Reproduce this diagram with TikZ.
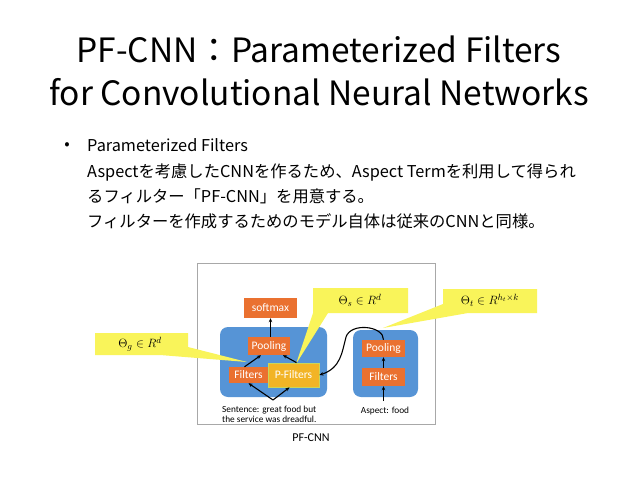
\documentclass[tikz,border=0pt]{standalone}
\usepackage{fontspec}
\setmainfont{Noto Sans CJK JP}
\newfontfamily\boxfont{Carlito}
\usetikzlibrary{arrows.meta}
\definecolor{bluebox}{HTML}{5694D6}
\definecolor{orangebox}{HTML}{EA7130}
\definecolor{pfill}{HTML}{F2B426}
\definecolor{pborder}{HTML}{C9D65C}
\definecolor{callout}{HTML}{F9F45A}
\definecolor{framegray}{HTML}{A8A8A8}
\begin{document}
\begin{tikzpicture}[x=1pt,y=-1pt,
  bluepanel/.style={fill=bluebox, rounded corners=8pt},
  obox/.style={fill=orangebox, text=white, inner sep=0pt, font=\boxfont\fontsize{11.5}{13}\selectfont},
  arr/.style={-{Stealth[length=4pt,width=3.5pt]}, line width=1.1pt, black},
  callbox/.style={fill=callout},
  title/.style={anchor=base, inner sep=0pt, font=\fontsize{33.5}{38}\selectfont},
  body/.style={anchor=base west, inner sep=0pt, font=\fontsize{16.3}{20}\selectfont},
  small/.style={inner sep=0pt, font=\boxfont\fontsize{9.3}{11}\selectfont},
  mathlab/.style={inner sep=0pt, font=\fontsize{12.5}{14}\selectfont}]
\fill[white] (0,0) rectangle (638,479);
\useasboundingbox (0,0) rectangle (638,479);

% title
\node[title] (t1) at (319,62) {PF-CNN：Parameterized Filters};
\node[title] (t2) at (319,105) {for Convolutional Neural Networks};

% bullet text
\node[inner sep=0pt, font=\fontsize{16}{18}\selectfont] (bul) at (67,146) {•};
\node[body] (b1) at (87,151) {Parameterized Filters};
\node[body] (b2) at (87,177) {Aspectを考慮したCNNを作るため、Aspect Termを利用して得られ};
\node[body] (b3) at (87,202) {るフィルター「PF-CNN」を用意する。};
\node[body] (b4) at (87,227) {フィルターを作成するためのモデル自体は従来のCNNと同様。};

% frame
\draw[framegray, line width=0.8pt] (197,263) rectangle (435,424);

% blue panels
\fill[bluepanel] (220,327) rectangle (327,397);
\fill[bluepanel] (353,330) rectangle (418,397);

% callouts
\fill[callbox] (95,333) -- (188,333) -- (188,347) -- (247,362) -- (160,355) -- (95,355) -- cycle;
\fill[callbox] (313,288) -- (408,288) -- (408,313) -- (328,313) -- (296,364) -- (313,313) -- cycle;
\fill[callbox] (443,289) -- (537,289) -- (537,313) -- (468,313) -- (383,328) -- (443,304) -- cycle;
\node[mathlab] (cg) at (140,344) {$\Theta_g\in R^d$};
\node[mathlab] (cs) at (360,300) {$\Theta_s\in R^d$};
\node[mathlab] (ct) at (490,300) {$\Theta_t\in R^{h_t\times k}$};

% orange boxes
\node[obox, minimum width=53pt, minimum height=20pt] (soft) at (270.5,308) {softmax};
\node[obox, minimum width=42pt, minimum height=18pt] (pool1) at (269,346) {Pooling};
\node[obox, minimum width=39pt, minimum height=16pt] (fl) at (248.5,375) {Filters};
\node[fill=pfill, draw=pborder, line width=0.8pt, text=white, inner sep=0pt,
      minimum width=51pt, minimum height=24pt, font=\boxfont\fontsize{11.5}{13}\selectfont] (pf) at (293.5,375) {P-Filters};
\node[obox, minimum width=43pt, minimum height=17pt] (pool2) at (383.5,348.5) {Pooling};
\node[obox, minimum width=43pt, minimum height=18pt] (fl2) at (383.5,377) {Filters};

% texts
\node[small, anchor=base west] (sent1) at (222,412) {Sentence: great food but};
\node[small, anchor=base west] (sent2) at (222,422) {the service was dreadful.};
\node[small, anchor=base] (asp) at (385,413) {Aspect: food};
\node[inner sep=0pt, anchor=base, font=\boxfont\fontsize{12}{14}\selectfont] (cap) at (311,441) {PF-CNN};

% arrows
\coordinate (sv) at (273,400);
\coordinate (av) at (383.5,401);
\draw[arr] (pool1.north -| soft.south) -- (soft.south);
\draw[arr] ([xshift=-4pt]fl.north) -- ([xshift=-8pt]pool1.south);
\draw[arr] ([xshift=3pt]pf.north) -- ([xshift=14pt]pool1.south);
\draw[arr] (sv) -- (fl.south);
\draw[arr] (sv) -- ([xshift=-4pt]pf.south);
\draw[arr] (av) -- (fl2.south);
\draw[arr] (fl2.north) -- (pool2.south);
\draw[arr] (pool2.north) .. controls (384,326) and (351,322) .. (346,337)
  .. controls (342,352) and (341,368) .. (pf.east);
\end{tikzpicture}
\end{document}
